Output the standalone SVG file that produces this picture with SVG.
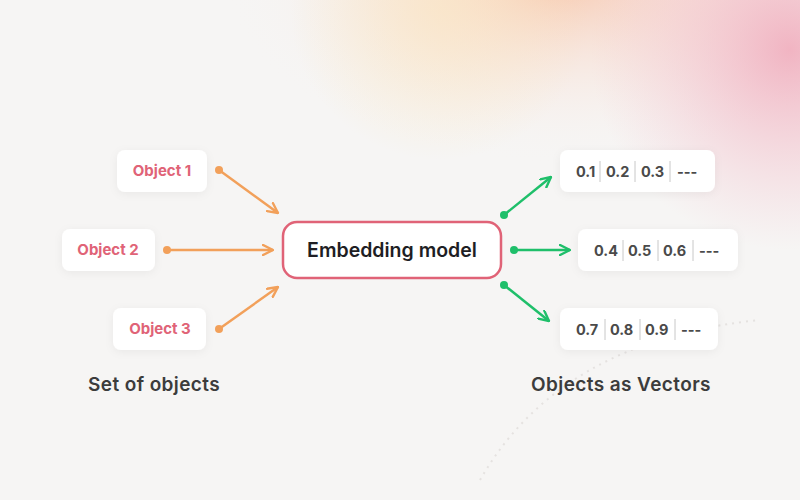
<svg xmlns="http://www.w3.org/2000/svg" width="800" height="500" viewBox="0 0 800 500">
<defs>
<radialGradient id="g1" cx="560" cy="-20" r="340" gradientUnits="userSpaceOnUse" gradientTransform="translate(560 -20) scale(1 0.55) translate(-560 20)">
<stop offset="0" stop-color="#f7c9b0"/><stop offset="0.4" stop-color="#f8dccf" stop-opacity="0.6"/><stop offset="1" stop-color="#f7f6f5" stop-opacity="0"/>
</radialGradient>
<radialGradient id="g2" cx="790" cy="50" r="200" gradientUnits="userSpaceOnUse">
<stop offset="0" stop-color="#f0a9ba" stop-opacity="0.85"/><stop offset="1" stop-color="#f4c2cc" stop-opacity="0"/>
</radialGradient>
<radialGradient id="g3" cx="440" cy="10" r="150" gradientUnits="userSpaceOnUse">
<stop offset="0" stop-color="#fbe6c0" stop-opacity="0.6"/><stop offset="1" stop-color="#fbe3b5" stop-opacity="0"/>
</radialGradient>
<marker id="ao" viewBox="0 0 12 12" refX="11" refY="6" markerWidth="12" markerHeight="12" markerUnits="userSpaceOnUse" orient="auto"><path d="M1 1 L11 6 L1 11" fill="none" stroke="#f2a05a" stroke-width="2.4" stroke-linecap="round" stroke-linejoin="round"/></marker>
<marker id="ag" viewBox="0 0 12 12" refX="11" refY="6" markerWidth="12" markerHeight="12" markerUnits="userSpaceOnUse" orient="auto"><path d="M1 1 L11 6 L1 11" fill="none" stroke="#1fbf6a" stroke-width="2.4" stroke-linecap="round" stroke-linejoin="round"/></marker>
<filter id="sh" x="-20%" y="-30%" width="140%" height="160%"><feDropShadow dx="0" dy="2" stdDeviation="4" flood-color="#000" flood-opacity="0.05"/></filter>
</defs>
<style>
.box{fill:#fff;filter:url(#sh)}
.obj{font-family:Inter,"Liberation Sans",sans-serif;font-weight:700;font-size:15px;fill:#e06377}
.vec{font-family:Inter,"Liberation Sans",sans-serif;font-weight:700;font-size:14.5px;fill:#4a4a4a}
.sep{stroke:#c8c8c8;stroke-width:1}
.lab{font-family:Inter,"Liberation Sans",sans-serif;font-weight:600;font-size:19px;fill:#3c3c3c;letter-spacing:0.4px}
.o{stroke:#f2a05a;stroke-width:2.5;fill:none;marker-end:url(#ao)}
.g{stroke:#1fbf6a;stroke-width:2.5;fill:none;marker-end:url(#ag)}
.od{fill:#f2a05a}.gd{fill:#1fbf6a}
</style>
<rect width="800" height="500" fill="#f6f5f4"/>
<rect width="800" height="500" fill="url(#g1)"/>
<rect width="800" height="500" fill="url(#g3)"/>
<rect width="800" height="500" fill="url(#g2)"/>
<path d="M480 480 Q560 340 760 320" fill="none" stroke="#e5e2e0" stroke-width="2" stroke-dasharray="2 5"/>
<g id="object1"><rect class="box" x="117" y="150" width="90" height="42" rx="8"/><text class="obj" x="162" y="176" text-anchor="middle">Object 1</text></g>
<g id="object2"><rect class="box" x="62" y="229" width="93" height="42" rx="8"/><text class="obj" x="108" y="255" text-anchor="middle">Object 2</text></g>
<g id="object3"><rect class="box" x="113" y="308" width="93" height="42" rx="8"/><text class="obj" x="160" y="334" text-anchor="middle">Object 3</text></g>
<g id="embedding"><rect x="283" y="222" width="218" height="56" rx="14" fill="#fff" stroke="#e06377" stroke-width="2.5"/><text x="392" y="257" text-anchor="middle" font-family="Inter,'Liberation Sans',sans-serif" font-weight="600" font-size="19.5" fill="#1e1e24">Embedding model</text></g>
<g id="vector1"><rect class="box" x="560" y="150" width="155" height="42" rx="8"/>
<text class="vec" y="177"><tspan x="576">0.1</tspan><tspan x="606">0.2</tspan><tspan x="641">0.3</tspan><tspan x="677">---</tspan></text>
<line class="sep" x1="600" y1="161" x2="600" y2="182"/><line class="sep" x1="635" y1="161" x2="635" y2="182"/><line class="sep" x1="670" y1="161" x2="670" y2="182"/></g>
<g id="vector2"><rect class="box" x="578" y="229" width="160" height="42" rx="8"/>
<text class="vec" y="256"><tspan x="594">0.4</tspan><tspan x="628">0.5</tspan><tspan x="663">0.6</tspan><tspan x="699">---</tspan></text>
<line class="sep" x1="623" y1="240" x2="623" y2="261"/><line class="sep" x1="658" y1="240" x2="658" y2="261"/><line class="sep" x1="693" y1="240" x2="693" y2="261"/></g>
<g id="vector3"><rect class="box" x="560" y="308" width="158" height="42" rx="8"/>
<text class="vec" y="335"><tspan x="576">0.7</tspan><tspan x="610">0.8</tspan><tspan x="645">0.9</tspan><tspan x="681">---</tspan></text>
<line class="sep" x1="605" y1="319" x2="605" y2="340"/><line class="sep" x1="640" y1="319" x2="640" y2="340"/><line class="sep" x1="675" y1="319" x2="675" y2="340"/></g>
<g id="connectors">
<line class="o" x1="219" y1="170" x2="278" y2="213"/><circle class="od" cx="219" cy="170" r="4"/>
<line class="o" x1="167" y1="250" x2="273" y2="250"/><circle class="od" cx="167" cy="250" r="4"/>
<line class="o" x1="219" y1="329" x2="278" y2="287"/><circle class="od" cx="219" cy="329" r="4"/>
<line class="g" x1="504" y1="215" x2="551" y2="177"/><circle class="gd" cx="504" cy="215" r="4"/>
<line class="g" x1="514" y1="250" x2="570" y2="250"/><circle class="gd" cx="514" cy="250" r="4"/>
<line class="g" x1="504" y1="285" x2="549" y2="321"/><circle class="gd" cx="504" cy="285" r="4"/>
</g>
<text class="lab" x="88" y="391">Set of objects</text>
<text class="lab" x="531" y="391">Objects as Vectors</text>
</svg>
